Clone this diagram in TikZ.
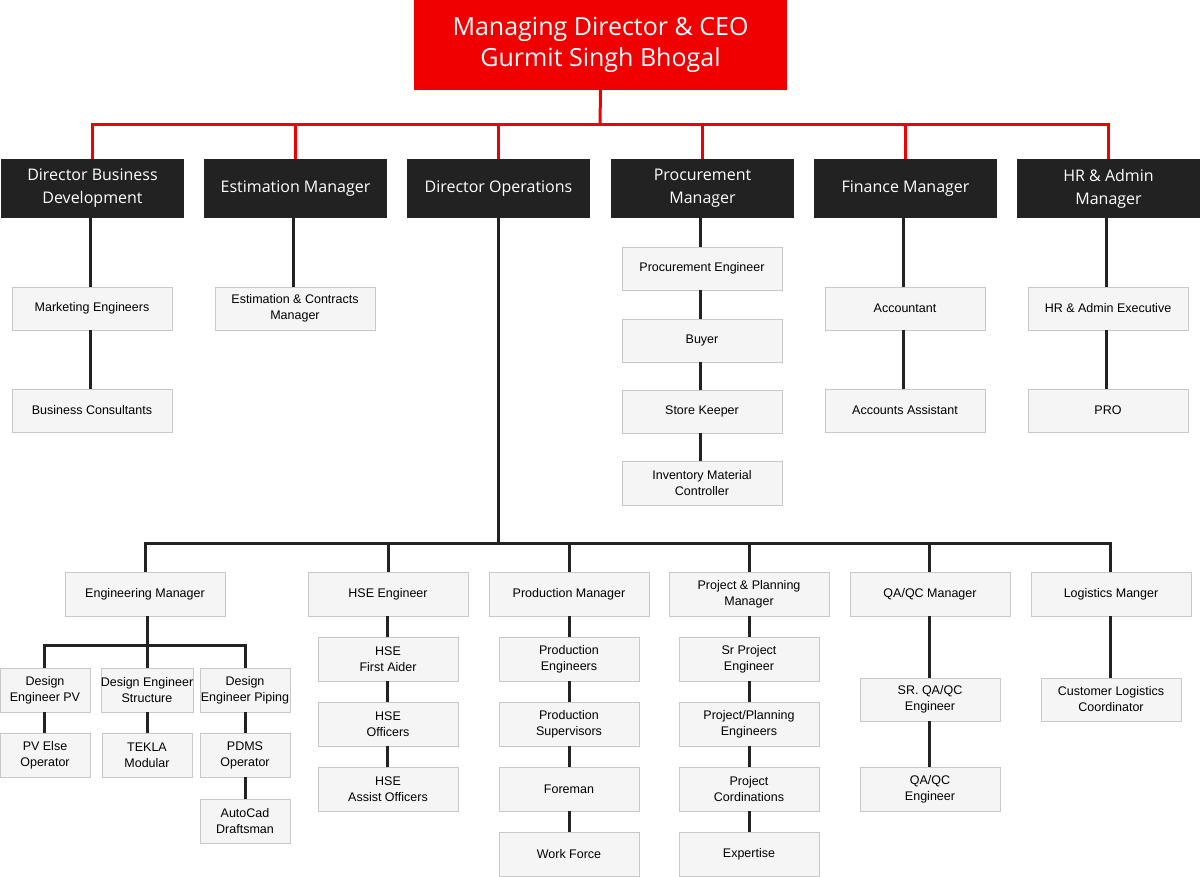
\documentclass[tikz,border=0pt]{standalone}
\usepackage{fontspec}
\setmainfont{Liberation Sans}
\newfontfamily\hdr{Open Sans}
\begin{document}
\begin{tikzpicture}[x=1pt,y=-1pt,
 red/.style={draw=none,fill={rgb,255:red,240;green,0;blue,0},text=white,font=\hdr\fontsize{25}{31}\selectfont,align=center},
 dir/.style={draw=none,fill={rgb,255:red,34;green,34;blue,34},text=white,font=\hdr\fontsize{16}{23}\selectfont,align=center},
 sm/.style={draw={rgb,255:red,200;green,200;blue,200},fill={rgb,255:red,245;green,245;blue,245},font=\fontsize{12.5}{16}\selectfont,align=center},
 rl/.style={line width=3pt,draw={rgb,255:red,240;green,0;blue,0}},
 bl/.style={line width=3pt,draw={rgb,255:red,34;green,34;blue,34}}]
\useasboundingbox (0,0) rectangle (1200,877);
\newcommand\bx[6]{\node[#1,minimum width=#4-#3,minimum height=#6-#5,inner sep=0] (#2) at ({(#3+#4)/2},{(#5+#6)/2}) {\strut};}
\newcommand\B[7]{\node[#1,minimum width=#4-#3,minimum height=#6-#5,inner sep=0] (#2) at ({(#3+#4)/2},{(#5+#6)/2}) {#7};}
% top
\B{red}{ceo}{414}{787}{0}{90}{Managing Director \& CEO\\Gurmit Singh Bhogal}
\B{dir}{d1}{1}{184}{159}{218}{Director Business\\Development}
\B{dir}{d2}{204}{387}{159}{218}{Estimation Manager}
\B{dir}{d3}{407}{590}{159}{218}{Director Operations}
\B{dir}{d4}{611}{794}{159}{218}{Procurement\\Manager}
\B{dir}{d5}{814}{997}{159}{218}{Finance Manager}
\B{dir}{d6}{1017}{1200}{159}{218}{HR \& Admin\\Manager}
\coordinate (r) at (600,125);
\draw[rl] (ceo.south) -- (r);
\draw[rl] (d1.north) -- ++(0,-34) -| (d6.north);
\foreach \d in {d2,d3,d4,d5}{\draw[rl] (\d.north) -- ++(0,-34);}
% columns
\B{sm}{m1}{12}{172}{287}{330}{Marketing Engineers}
\B{sm}{m2}{12}{172}{389}{432}{Business Consultants}
\B{sm}{e1}{215}{375}{287}{330}{Estimation \& Contracts\\Manager}
\B{sm}{p1}{622}{782}{247}{290}{Procurement Engineer}
\B{sm}{p2}{622}{782}{319}{362}{Buyer}
\B{sm}{p3}{622}{782}{390}{433}{Store Keeper}
\B{sm}{p4}{622}{782}{461}{505}{Inventory Material\\Controller}
\B{sm}{f1}{825}{985}{287}{330}{Accountant}
\B{sm}{f2}{825}{985}{389}{432}{Accounts Assistant}
\B{sm}{h1}{1028}{1188}{287}{330}{HR \& Admin Executive}
\B{sm}{h2}{1028}{1188}{389}{432}{PRO}
\draw[bl] (90,218) -- (90,287) (90,330) -- (90,389);
\draw[bl] (293,218) -- (293,287);
\draw[bl] (700,218) -- (700,247) (700,290) -- (700,319) (700,362) -- (700,390) (700,433) -- (700,461);
\draw[bl] (903,218) -- (903,287) (903,330) -- (903,389);
\draw[bl] (1106,218) -- (1106,287) (1106,330) -- (1106,389);
% operations
\B{sm}{o1}{65}{225}{572}{616}{Engineering Manager}
\B{sm}{o2}{308}{468}{572}{616}{HSE Engineer}
\B{sm}{o3}{489}{649}{572}{616}{Production Manager}
\B{sm}{o4}{669}{829}{572}{616}{Project \& Planning\\Manager}
\B{sm}{o5}{850}{1010}{572}{616}{QA/QC Manager}
\B{sm}{o6}{1031}{1191}{572}{616}{Logistics Manger}
\draw[bl] (498,218) -- (498,543);
\draw[bl] (145,572) -- (145,543) -- (1110,543) -- (1110,572);
\foreach \x in {388,569,749,929}{\draw[bl] (\x,543) -- (\x,572);}
% engineering
\B{sm}{g1}{0}{90}{668}{712}{Design\\Engineer PV}
\B{sm}{g2}{102}{192}{668}{712}{Design Engineer\\Structure}
\B{sm}{g3}{200}{290}{668}{712}{Design\\Engineer Piping}
\B{sm}{g4}{0}{90}{733}{777}{PV Else\\Operator}
\B{sm}{g5}{102}{192}{733}{777}{TEKLA\\Modular}
\B{sm}{g6}{200}{290}{733}{777}{PDMS\\Operator}
\B{sm}{g7}{200}{290}{799}{843}{AutoCad\\Draftsman}
\draw[bl] (147,616) -- (147,645);
\draw[bl] (44,668) -- (44,645) -- (245,645) -- (245,668) (147,645) -- (147,668);
\draw[bl] (44,712) -- (44,733) (147,712) -- (147,733) (245,712) -- (245,733) (245,777) -- (245,799);
% HSE
\B{sm}{s1}{318}{458}{637}{681}{HSE\\First Aider}
\B{sm}{s2}{318}{458}{702}{746}{HSE\\Officers}
\B{sm}{s3}{318}{458}{767}{811}{HSE\\Assist Officers}
\draw[bl] (387,616) -- (387,637) (387,681) -- (387,702) (387,746) -- (387,767);
% production
\B{sm}{q1}{499}{639}{637}{681}{Production\\Engineers}
\B{sm}{q2}{499}{639}{702}{746}{Production\\Supervisors}
\B{sm}{q3}{499}{639}{767}{811}{Foreman}
\B{sm}{q4}{499}{639}{832}{876}{Work Force}
\draw[bl] (569,616) -- (569,637) (569,681) -- (569,702) (569,746) -- (569,767) (569,811) -- (569,832);
% project
\B{sm}{j1}{679}{819}{637}{681}{Sr Project\\Engineer}
\B{sm}{j2}{679}{819}{702}{746}{Project/Planning\\Engineers}
\B{sm}{j3}{679}{819}{767}{811}{Project\\Cordinations}
\B{sm}{j4}{679}{819}{832}{876}{Expertise}
\draw[bl] (749,616) -- (749,637) (749,681) -- (749,702) (749,746) -- (749,767) (749,811) -- (749,832);
% QA
\B{sm}{a1}{860}{1000}{678}{721}{SR. QA/QC\\Engineer}
\B{sm}{a2}{860}{1000}{767}{811}{QA/QC\\Engineer}
\draw[bl] (929,616) -- (929,678) (929,721) -- (929,767);
% logistics
\B{sm}{l1}{1041}{1181}{678}{721}{Customer Logistics\\Coordinator}
\draw[bl] (1110,616) -- (1110,678);
\end{tikzpicture}
\end{document}
